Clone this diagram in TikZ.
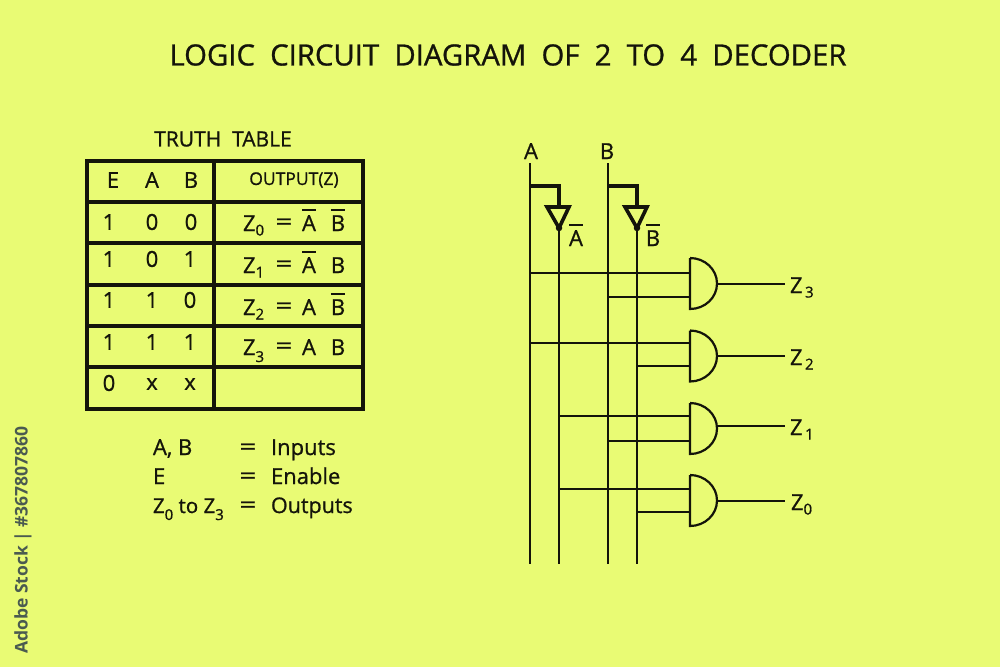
\documentclass[tikz,border=0pt]{standalone}
\usepackage{fontspec}
\setmainfont{Open Sans}[UprightFeatures={FakeBold=0.9}]
\newfontfamily\creditfont{Open Sans}
\definecolor{bgy}{HTML}{E9FB74}
\definecolor{ink}{HTML}{14140A}
\definecolor{stock}{HTML}{4A5A50}
\newcommand{\ovb}[1]{\leavevmode\setbox0\hbox{#1}\rlap{\raisebox{\dimexpr\ht0+4pt\relax}{\rule{\wd0}{2.4pt}}}\box0}
\newcommand{\sbs}[2]{#1\raisebox{-4.5pt}{\fontsize{15}{15}\selectfont #2}}
\newcommand{\sbl}[2]{#1\raisebox{-7pt}{\fontsize{15}{15}\selectfont #2}}
\newcommand{\eqs}{\scalebox{1.35}[1]{=}}
\tikzset{
  txt/.style={inner sep=0pt,outer sep=0pt,text=ink,font=\fontsize{22}{24}\selectfont},
  small/.style={txt,font=\fontsize{17.5}{19}\selectfont},
  tbl/.style={draw=ink,line width=4pt,line cap=rect},
  wire/.style={draw=ink,line width=2.6pt},
  thin wire/.style={draw=ink,line width=2pt},
  feed/.style={draw=ink,line width=3.6pt,line join=miter},
  gatebox/.style={minimum width=27pt,minimum height=51pt,inner sep=0pt,outer sep=0pt,draw=none},
  gateline/.style={draw=ink,line width=2.2pt},
  inv/.style={draw=ink,line width=3.6pt,line join=miter},
  dotn/.style={circle,fill=ink,minimum size=6.5pt,inner sep=0pt},
}
\newcommand{\andgate}[2]{%
  \node[gatebox] (#1) at (703.5,#2) {};
  \draw[gateline] (#1.north west) -- (#1.south west) arc[start angle=-90,end angle=90,x radius=27pt,y radius=25.5pt];
}
\begin{document}
\begin{tikzpicture}[x=1pt,y=-1pt]
\path[use as bounding box,fill=bgy] (0,0) rectangle (1000,667);

% title
\node[txt,font=\fontsize{29.3}{31}\selectfont] (title) at (508,55) {LOGIC\ \ CIRCUIT\ \ DIAGRAM\ \ OF\ \ 2\ \ TO\ \ 4\ \ DECODER};
\node[txt,font=\fontsize{21}{23}\selectfont] (tt) at (223,139) {TRUTH\ \ TABLE};

% truth table
\draw[tbl] (87,161) rectangle (363,409);
\foreach \yy in {202,243,285,326,367} \draw[tbl] (87,\yy) -- (363,\yy);
\draw[tbl] (214,161) -- (214,409);

\node[txt] (hE) at (113,180) {E};
\node[txt] (hA) at (152,180) {A};
\node[txt] (hB) at (191,180) {B};
\node[small] (hO) at (294,180) {OUTPUT(Z)};

\node[txt] (r1e) at (109,222) {1}; \node[txt] (r1a) at (152,222) {0}; \node[txt] (r1b) at (191,222) {0};
\node[txt] (r2e) at (109,259) {1}; \node[txt] (r2a) at (152,259) {0}; \node[txt] (r2b) at (190,259) {1};
\node[txt] (r3e) at (109,300) {1}; \node[txt] (r3a) at (152,300) {1}; \node[txt] (r3b) at (190,300) {0};
\node[txt] (r4e) at (109,342) {1}; \node[txt] (r4a) at (152,342) {1}; \node[txt] (r4b) at (190,342) {1};
\node[txt] (r5e) at (109,383) {0}; \node[txt] (r5a) at (152,384) {x}; \node[txt] (r5b) at (190,384) {x};

\node[txt,anchor=base west] (z0) at (243,231) {\sbs{Z}{0}};
\node[txt] (e0) at (284,224) {\eqs};
\node[txt,anchor=base] (a0) at (309,231) {\ovb{A}};
\node[txt,anchor=base] (b0) at (338,231) {\ovb{B}};

\node[txt,anchor=base west] (z1) at (243,273) {\sbs{Z}{1}};
\node[txt] (e1) at (284,266) {\eqs};
\node[txt,anchor=base] (a1) at (309,273) {\ovb{A}};
\node[txt,anchor=base] (b1) at (338,273) {B};

\node[txt,anchor=base west] (z2) at (243,315) {\sbs{Z}{2}};
\node[txt] (e2) at (284,308) {\eqs};
\node[txt,anchor=base] (a2) at (309,315) {A};
\node[txt,anchor=base] (b2) at (338,315) {\ovb{B}};

\node[txt,anchor=base west] (z3) at (243,355) {\sbl{Z}{3}};
\node[txt] (e3) at (284,348) {\eqs};
\node[txt,anchor=base] (a3) at (309,355) {A};
\node[txt,anchor=base] (b3) at (338,355) {B};

% legend
\node[txt,anchor=base west] (l1) at (153,455) {A, B};
\node[txt] (l1e) at (248,449) {\eqs};
\node[txt,anchor=base west] (l1t) at (271,455) {Inputs};
\node[txt,anchor=base west] (l2) at (153,484) {E};
\node[txt] (l2e) at (248,478) {\eqs};
\node[txt,anchor=base west] (l2t) at (271,484) {Enable};
\node[txt,anchor=base west,font=\fontsize{20.5}{22}\selectfont] (l3) at (153,513) {\sbl{Z}{0} to \sbl{Z}{3}};
\node[txt] (l3e) at (248,507) {\eqs};
\node[txt,anchor=base west,font=\fontsize{21.5}{23}\selectfont] (l3t) at (271,513) {Outputs};

% circuit: rails
\coordinate (At) at (530,163); \coordinate (Ab) at (530,564);
\coordinate (Bt) at (608,163); \coordinate (Bb) at (608,564);
\coordinate (Nb) at (559,564); \coordinate (Mb) at (637,564);
\node[dotn] (Nd) at (559,228) {};
\node[dotn] (Md) at (637,228) {};
\coordinate (Ntop) at (559,207); \coordinate (Mtop) at (637,207);
\coordinate (Af) at (530,186); \coordinate (Bf) at (608,186);

\draw[wire] (At) -- (Ab);
\draw[wire] (Bt) -- (Bb);
\draw[wire] (Nd) -- (Nb);
\draw[wire] (Md) -- (Mb);

\draw[feed] (Af) -| (Ntop);
\draw[feed] (Bf) -| (Mtop);
\draw[inv] (547,207) -- (569,207) -- (Nd.center) -- cycle;
\draw[inv] (625,207) -- (647,207) -- (Md.center) -- cycle;

% gates
\andgate{g3}{283.5}
\andgate{g2}{356}
\andgate{g1}{428.5}
\andgate{g0}{500.5}

% gate inputs
\coordinate (g3a) at (690,273); \coordinate (g3b) at (690,297);
\coordinate (g2a) at (690,343); \coordinate (g2b) at (690,366);
\coordinate (g1a) at (690,416); \coordinate (g1b) at (690,441);
\coordinate (g0a) at (690,489); \coordinate (g0b) at (690,512);
\draw[thin wire] (g3a) -- (g3a -| At);
\draw[thin wire] (g3b) -- (g3b -| Bt);
\draw[thin wire] (g2a) -- (g2a -| At);
\draw[thin wire] (g2b) -- (g2b -| Mb);
\draw[thin wire] (g1a) -- (g1a -| Nb);
\draw[thin wire] (g1b) -- (g1b -| Bt);
\draw[thin wire] (g0a) -- (g0a -| Nb);
\draw[thin wire] (g0b) -- (g0b -| Mb);

% outputs
\coordinate (o3) at (785,284); \coordinate (o2) at (785,356);
\coordinate (o1) at (785,426); \coordinate (o0) at (785,501);
\draw[thin wire] (g3.east |- o3) -- (o3);
\draw[thin wire] (g2.east |- o2) -- (o2);
\draw[thin wire] (g1.east |- o1) -- (o1);
\draw[thin wire] (g0.east |- o0) -- (o0);

\node[txt,anchor=base west] (oz3) at (790,293) {\sbs{Z}{\,3}};
\node[txt,anchor=base west] (oz2) at (790,365) {\sbs{Z}{\,2}};
\node[txt,anchor=base west] (oz1) at (790,435) {\sbs{Z}{\,1}};
\node[txt,anchor=base west] (oz0) at (791,510) {\sbs{Z}{0}};

\node[txt,anchor=base] (lA) at (531,159) {A};
\node[txt,anchor=base] (lB) at (607,159) {B};
\node[txt,anchor=base] (lNa) at (576,246) {\ovb{A}};
\node[txt,anchor=base] (lNb) at (653,246) {\ovb{B}};

% side credit
\node[txt,rotate=90,text=stock,font=\creditfont\bfseries\fontsize{17.5}{19}\selectfont] (credit) at (23,540) {Adobe Stock | \#367807860};
\end{tikzpicture}
\end{document}
